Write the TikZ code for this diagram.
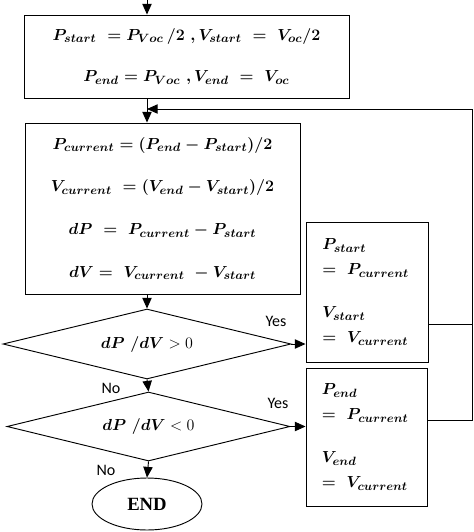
\documentclass[tikz,border=0pt]{standalone}
\usepackage{amsmath}
\usepackage{fontspec}
\newfontfamily\labelfont{Carlito}
\newfontfamily\endfont{Liberation Serif}
\usetikzlibrary{shapes,shapes.geometric,arrows.meta}

\begin{document}
\begin{tikzpicture}[x=0.75pt, y=-0.75pt, line width=0.7pt,
   >={Triangle[width=7pt,length=8pt]},
   box/.style={draw, inner sep=0pt, align=center, font=\fontsize{13}{15}\selectfont},
   decision/.style={draw, diamond, inner sep=0pt, aspect=4.1, font=\fontsize{13}{15}\selectfont},
   answer/.style={font=\labelfont\fontsize{12}{14}\selectfont}]
   \useasboundingbox (0,0) rectangle (474,532);
   % process boxes
   \node[box, minimum width=243.75pt, minimum height=62.25pt] (init) at (186.5,56.5)
     {$\boldsymbol{P_{start}\ = P_{Voc}\,/2\ ,V_{start}\ =\ V_{oc}/2}$\\[16pt]
      $\boldsymbol{P_{end} = P_{Voc}\ ,V_{end}\ =\ V_{oc}}$};
   \node[box, minimum width=206.25pt, minimum height=128.25pt] (calc) at (162.5,208.5)
     {$\boldsymbol{P_{current} = (P_{end} - P_{start})/2}$\\[17pt]
      $\boldsymbol{V_{current}\ = (V_{end} - V_{start})/2}$\\[17pt]
      $\boldsymbol{dP\ =\ P_{current} - P_{start}}$\\[17pt]
      $\boldsymbol{dV =\ V_{current}\ - V_{start}}$};
   \node[box, align=left, text width=67pt, minimum width=91.5pt, minimum height=105pt] (upstart) at (367,292)
     {$\boldsymbol{P_{start}}$\\[4pt]
      $\boldsymbol{=\ P_{current}}$\\[17pt]
      $\boldsymbol{V_{start}}$\\[4pt]
      $\boldsymbol{=\ V_{current}}$};
   \node[box, align=left, text width=67pt, minimum width=90.75pt, minimum height=103.5pt] (upend) at (366.5,437)
     {$\boldsymbol{P_{end}}$\\[4pt]
      $\boldsymbol{=\ P_{current}}$\\[17pt]
      $\boldsymbol{V_{end}}$\\[4pt]
      $\boldsymbol{=\ V_{current}}$};
   % decisions
   \node[decision, minimum width=216pt, minimum height=52.5pt] (dec1) at (147,344)
     {$\boldsymbol{dP\ /dV} > 0$};
   \node[decision, minimum width=212.25pt, minimum height=51.75pt] (dec2) at (148.5,426.5)
     {$\boldsymbol{dP\ /dV} < 0$};
   \node[draw, ellipse, minimum width=82.5pt, minimum height=39pt,
     font=\endfont\bfseries\fontsize{14}{16}\selectfont] (stop) at (147,504) {END};
   \node[answer] (yes1) at (276,321) {Yes};
   \node[answer] (yes2) at (278,403) {Yes};
   \node[answer] (no1) at (111,388) {No};
   \node[answer] (no2) at (106,470) {No};
   % connectors
   \coordinate (entry) at (147,0);
   \coordinate (loop) at (472,109);
   \draw[->] (entry) -- (entry |- init.north);
   \draw[->] (init.south -| dec1) -- (calc.north -| dec1);
   \draw[->] (calc.south -| dec1) -- (dec1.north);
   \draw[->] (dec1.east) -- (upstart.west |- dec1.east);
   \draw[->] (dec1.south) -- (dec2.north);
   \draw[->] (dec2.east) -- (upend.west |- dec2.east);
   \draw[->] (dec2.south) -- (stop.north);
   \coordinate (outstart) at ([yshift=-24pt]upstart.east);
   \coordinate (outend) at ([yshift=12.75pt]upend.east);
   \draw (outstart) -- (outstart -| loop);
   \draw[->] (outend) -| (loop) -- (loop -| dec1);
\end{tikzpicture}
\end{document}
